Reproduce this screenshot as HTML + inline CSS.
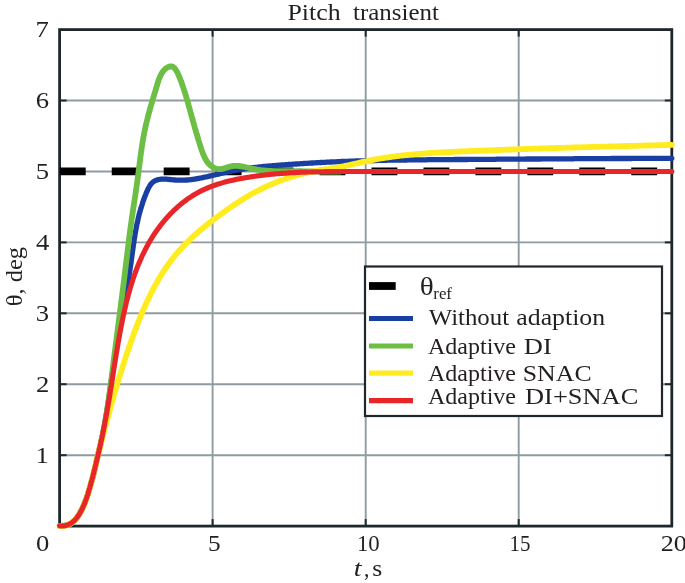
<!DOCTYPE html>
<html><head><meta charset="utf-8"><title>Pitch transient</title>
<style>html,body{margin:0;padding:0;background:#fff;}svg{display:block;}</style></head>
<body><svg width="685" height="583" viewBox="0 0 685 583">
<rect width="685" height="583" fill="#fff"/>
<line x1="212.6" y1="29.6" x2="212.6" y2="526.1" stroke="#909ba1" stroke-width="1.9"/>
<line x1="365.7" y1="29.6" x2="365.7" y2="526.1" stroke="#909ba1" stroke-width="1.9"/>
<line x1="518.7" y1="29.6" x2="518.7" y2="526.1" stroke="#909ba1" stroke-width="1.9"/>
<line x1="59.6" y1="455.2" x2="671.8" y2="455.2" stroke="#909ba1" stroke-width="1.9"/>
<line x1="59.6" y1="384.2" x2="671.8" y2="384.2" stroke="#909ba1" stroke-width="1.9"/>
<line x1="59.6" y1="313.3" x2="671.8" y2="313.3" stroke="#909ba1" stroke-width="1.9"/>
<line x1="59.6" y1="242.4" x2="671.8" y2="242.4" stroke="#909ba1" stroke-width="1.9"/>
<line x1="59.6" y1="171.5" x2="671.8" y2="171.5" stroke="#909ba1" stroke-width="1.9"/>
<line x1="59.6" y1="100.5" x2="671.8" y2="100.5" stroke="#909ba1" stroke-width="1.9"/>
<line x1="212.6" y1="29.6" x2="212.6" y2="36.6" stroke="#1e272c" stroke-width="2"/>
<line x1="212.6" y1="526.1" x2="212.6" y2="519.1" stroke="#1e272c" stroke-width="2"/>
<line x1="365.7" y1="29.6" x2="365.7" y2="36.6" stroke="#1e272c" stroke-width="2"/>
<line x1="365.7" y1="526.1" x2="365.7" y2="519.1" stroke="#1e272c" stroke-width="2"/>
<line x1="518.7" y1="29.6" x2="518.7" y2="36.6" stroke="#1e272c" stroke-width="2"/>
<line x1="518.7" y1="526.1" x2="518.7" y2="519.1" stroke="#1e272c" stroke-width="2"/>
<line x1="59.6" y1="455.2" x2="66.6" y2="455.2" stroke="#1e272c" stroke-width="2"/>
<line x1="671.8" y1="455.2" x2="664.8" y2="455.2" stroke="#1e272c" stroke-width="2"/>
<line x1="59.6" y1="384.2" x2="66.6" y2="384.2" stroke="#1e272c" stroke-width="2"/>
<line x1="671.8" y1="384.2" x2="664.8" y2="384.2" stroke="#1e272c" stroke-width="2"/>
<line x1="59.6" y1="313.3" x2="66.6" y2="313.3" stroke="#1e272c" stroke-width="2"/>
<line x1="671.8" y1="313.3" x2="664.8" y2="313.3" stroke="#1e272c" stroke-width="2"/>
<line x1="59.6" y1="242.4" x2="66.6" y2="242.4" stroke="#1e272c" stroke-width="2"/>
<line x1="671.8" y1="242.4" x2="664.8" y2="242.4" stroke="#1e272c" stroke-width="2"/>
<line x1="59.6" y1="171.5" x2="66.6" y2="171.5" stroke="#1e272c" stroke-width="2"/>
<line x1="671.8" y1="171.5" x2="664.8" y2="171.5" stroke="#1e272c" stroke-width="2"/>
<line x1="59.6" y1="100.5" x2="66.6" y2="100.5" stroke="#1e272c" stroke-width="2"/>
<line x1="671.8" y1="100.5" x2="664.8" y2="100.5" stroke="#1e272c" stroke-width="2"/>
<rect x="59.6" y="29.6" width="612.2" height="496.5" fill="none" stroke="#1e272c" stroke-width="2.8"/>
<line x1="59.8" y1="171.4" x2="671.8" y2="171.4" stroke="#000" stroke-width="7.9" stroke-dasharray="25.9 26.05"/>
<path d="M59.6,525.8 L60.6,525.8 L61.6,525.8 L62.6,525.7 L63.6,525.7 L64.6,525.6 L65.6,525.4 L66.6,525.2 L67.5,525.0 L68.5,524.6 L69.4,524.2 L70.3,523.7 L71.1,523.2 L72.0,522.6 L72.8,522.0 L73.5,521.4 L74.3,520.7 L75.0,520.0 L75.7,519.2 L76.3,518.5 L76.9,517.7 L77.5,516.9 L78.1,516.1 L78.6,515.3 L79.2,514.4 L79.7,513.5 L80.2,512.7 L80.7,511.8 L81.1,510.9 L81.6,510.0 L82.0,509.1 L82.4,508.2 L82.8,507.3 L83.3,506.3 L83.6,505.4 L84.0,504.5 L84.4,503.6 L84.8,502.6 L85.1,501.7 L85.5,500.8 L85.8,499.8 L86.2,498.9 L86.5,498.0 L86.8,497.0 L87.2,496.1 L87.5,495.1 L87.8,494.2 L88.1,493.2 L88.4,492.3 L88.7,491.3 L89.0,490.3 L89.3,489.4 L89.5,488.4 L89.8,487.5 L90.1,486.5 L90.4,485.5 L90.7,484.6 L90.9,483.6 L91.2,482.7 L91.5,481.7 L91.7,480.7 L92.0,479.8 L92.3,478.8 L92.5,477.8 L92.8,476.9 L93.0,475.9 L93.3,474.9 L93.6,474.0 L93.8,473.0 L94.0,472.0 L94.3,471.1 L94.5,470.1 L94.8,469.1 L95.0,468.1 L95.2,467.2 L95.4,466.2 L95.6,465.2 L95.9,464.2 L96.1,463.3 L96.3,462.3 L96.5,461.3 L96.7,460.3 L96.9,459.4 L97.1,458.4 L97.4,457.4 L97.6,456.4 L97.8,455.5 L98.0,454.5 L98.3,453.5 L98.5,452.5 L98.7,451.6 L99.0,450.6 L99.2,449.6 L99.5,448.6 L99.7,447.7 L99.9,446.7 L100.2,445.7 L100.4,444.8 L100.6,443.8 L100.8,442.8 L101.1,441.8 L101.3,440.9 L101.5,439.9 L101.7,438.9 L102.0,437.9 L102.2,437.0 L102.4,436.0 L102.6,435.0 L102.8,434.0 L103.0,433.0 L103.2,432.1 L103.4,431.1 L103.6,430.1 L103.8,429.1 L104.0,428.1 L104.1,427.2 L104.3,426.2 L104.5,425.2 L104.7,424.2 L104.9,423.2 L105.0,422.2 L105.2,421.3 L105.4,420.3 L105.6,419.3 L105.7,418.3 L105.9,417.3 L106.1,416.3 L106.2,415.3 L106.4,414.4 L106.5,413.4 L106.7,412.4 L106.8,411.4 L107.0,410.4 L107.2,409.4 L107.3,408.4 L107.5,407.4 L107.6,406.5 L107.8,405.5 L107.9,404.5 L108.1,403.5 L108.2,402.5 L108.3,401.5 L108.5,400.5 L108.6,399.5 L108.8,398.5 L108.9,397.6 L109.1,396.6 L109.2,395.6 L109.3,394.6 L109.5,393.6 L109.6,392.6 L109.8,391.6 L109.9,390.6 L110.1,389.6 L110.2,388.7 L110.3,387.7 L110.5,386.7 L110.6,385.7 L110.8,384.7 L110.9,383.7 L111.0,382.7 L111.2,381.7 L111.3,380.7 L111.5,379.7 L111.6,378.8 L111.8,377.8 L111.9,376.8 L112.1,375.8 L112.2,374.8 L112.4,373.8 L112.5,372.8 L112.7,371.8 L112.8,370.8 L113.0,369.9 L113.1,368.9 L113.3,367.9 L113.4,366.9 L113.6,365.9 L113.7,364.9 L113.9,363.9 L114.1,362.9 L114.2,361.9 L114.4,361.0 L114.5,360.0 L114.7,359.0 L114.9,358.0 L115.0,357.0 L115.2,356.0 L115.4,355.0 L115.5,354.1 L115.7,353.1 L115.9,352.1 L116.0,351.1 L116.2,350.1 L116.4,349.1 L116.5,348.1 L116.7,347.1 L116.9,346.2 L117.0,345.2 L117.2,344.2 L117.4,343.2 L117.5,342.2 L117.7,341.2 L117.9,340.2 L118.1,339.3 L118.2,338.3 L118.4,337.3 L118.6,336.3 L118.8,335.3 L118.9,334.3 L119.1,333.4 L119.3,332.4 L119.5,331.4 L119.6,330.4 L119.8,329.4 L120.0,328.4 L120.2,327.4 L120.3,326.5 L120.5,325.5 L120.7,324.5 L120.9,323.5 L121.0,322.5 L121.2,321.5 L121.4,320.6 L121.6,319.6 L121.7,318.6 L121.9,317.6 L122.1,316.6 L122.3,315.6 L122.4,314.7 L122.6,313.7 L122.8,312.7 L123.0,311.7 L123.1,310.7 L123.3,309.7 L123.5,308.8 L123.7,307.8 L123.8,306.8 L124.0,305.8 L124.2,304.8 L124.4,303.8 L124.5,302.9 L124.7,301.9 L124.9,300.9 L125.0,299.9 L125.2,298.9 L125.4,297.9 L125.6,296.9 L125.7,296.0 L125.9,295.0 L126.1,294.0 L126.2,293.0 L126.4,292.0 L126.6,291.0 L126.7,290.1 L126.9,289.1 L127.1,288.1 L127.2,287.1 L127.4,286.1 L127.6,285.1 L127.7,284.1 L127.9,283.1 L128.0,282.2 L128.2,281.2 L128.4,280.2 L128.5,279.2 L128.7,278.2 L128.8,277.2 L129.0,276.2 L129.1,275.2 L129.3,274.3 L129.4,273.3 L129.6,272.3 L129.7,271.3 L129.9,270.3 L130.0,269.3 L130.2,268.3 L130.3,267.3 L130.5,266.3 L130.6,265.3 L130.7,264.4 L130.9,263.4 L131.0,262.4 L131.2,261.4 L131.3,260.4 L131.4,259.4 L131.6,258.4 L131.7,257.4 L131.8,256.4 L132.0,255.4 L132.1,254.4 L132.3,253.4 L132.4,252.4 L132.5,251.5 L132.7,250.5 L132.8,249.5 L132.9,248.5 L133.1,247.5 L133.2,246.5 L133.4,245.5 L133.5,244.5 L133.7,243.5 L133.8,242.5 L133.9,241.5 L134.1,240.5 L134.2,239.6 L134.4,238.6 L134.6,237.6 L134.7,236.6 L134.9,235.6 L135.0,234.6 L135.2,233.6 L135.4,232.7 L135.5,231.7 L135.7,230.7 L135.9,229.7 L136.1,228.7 L136.3,227.7 L136.5,226.8 L136.6,225.8 L136.8,224.8 L137.0,223.8 L137.3,222.9 L137.5,221.9 L137.7,220.9 L137.9,219.9 L138.1,219.0 L138.3,218.0 L138.6,217.0 L138.8,216.1 L139.0,215.1 L139.3,214.1 L139.5,213.2 L139.8,212.2 L140.1,211.2 L140.3,210.3 L140.6,209.3 L140.9,208.4 L141.2,207.4 L141.5,206.5 L141.8,205.5 L142.1,204.6 L142.4,203.6 L142.7,202.7 L143.0,201.7 L143.3,200.8 L143.7,199.8 L144.0,198.9 L144.3,198.0 L144.7,197.0 L145.0,196.1 L145.4,195.2 L145.8,194.2 L146.1,193.3 L146.5,192.3 L147.0,191.4 L147.4,190.4 L147.8,189.4 L148.3,188.5 L148.8,187.5 L149.4,186.5 L149.9,185.6 L150.5,184.7 L151.1,183.9 L151.8,183.2 L152.5,182.5 L153.2,181.9 L153.9,181.4 L154.7,180.9 L155.5,180.5 L156.3,180.2 L157.2,179.9 L158.1,179.7 L159.0,179.5 L159.9,179.3 L160.8,179.2 L161.8,179.2 L162.8,179.1 L163.7,179.1 L164.7,179.1 L165.7,179.2 L166.8,179.2 L167.8,179.3 L168.8,179.4 L169.8,179.5 L170.9,179.6 L171.9,179.7 L173.0,179.8 L174.0,179.9 L175.0,180.0 L176.1,180.1 L177.1,180.1 L178.1,180.2 L179.2,180.2 L180.2,180.2 L181.2,180.2 L182.2,180.2 L183.2,180.2 L184.2,180.2 L185.2,180.1 L186.2,180.0 L187.2,180.0 L188.1,179.9 L189.1,179.8 L190.1,179.7 L191.1,179.6 L192.0,179.5 L193.0,179.3 L194.0,179.2 L195.0,179.1 L195.9,178.9 L196.9,178.7 L197.9,178.6 L198.8,178.4 L199.8,178.2 L200.8,178.0 L201.7,177.8 L202.7,177.6 L203.7,177.4 L204.6,177.2 L205.6,177.0 L206.6,176.8 L207.6,176.6 L208.5,176.4 L209.5,176.1 L210.5,175.9 L211.5,175.7 L212.4,175.5 L213.4,175.2 L214.4,175.0 L215.4,174.8 L216.3,174.5 L217.3,174.3 L218.3,174.1 L219.3,173.8 L220.2,173.6 L221.2,173.4 L222.2,173.1 L223.2,172.9 L224.2,172.7 L225.1,172.5 L226.1,172.3 L227.1,172.0 L228.1,171.8 L229.1,171.6 L230.1,171.4 L231.0,171.2 L232.0,171.0 L233.0,170.8 L234.0,170.6 L235.0,170.5 L236.0,170.3 L237.0,170.1 L237.9,169.9 L238.9,169.8 L239.9,169.6 L240.9,169.4 L241.9,169.3 L242.9,169.1 L243.9,169.0 L244.9,168.8 L245.8,168.7 L246.8,168.5 L247.8,168.4 L248.8,168.3 L249.8,168.1 L250.8,168.0 L251.8,167.9 L252.8,167.7 L253.8,167.6 L254.8,167.5 L255.8,167.4 L256.7,167.3 L257.7,167.2 L258.7,167.0 L259.7,166.9 L260.7,166.8 L261.7,166.7 L262.7,166.6 L263.7,166.5 L264.7,166.4 L265.7,166.3 L266.7,166.2 L267.7,166.2 L268.7,166.1 L269.7,166.0 L270.7,165.9 L271.7,165.8 L272.7,165.7 L273.7,165.6 L274.6,165.6 L275.6,165.5 L276.6,165.4 L277.6,165.3 L278.6,165.2 L279.6,165.2 L280.6,165.1 L281.6,165.0 L282.6,164.9 L283.6,164.9 L284.6,164.8 L285.6,164.7 L286.6,164.6 L287.6,164.6 L288.6,164.5 L289.6,164.4 L290.6,164.4 L291.6,164.3 L292.6,164.2 L293.6,164.2 L294.6,164.1 L295.6,164.0 L296.6,164.0 L297.6,163.9 L298.6,163.8 L299.6,163.8 L300.6,163.7 L301.6,163.6 L302.6,163.6 L303.6,163.5 L304.6,163.4 L305.6,163.4 L306.6,163.3 L307.6,163.3 L308.6,163.2 L309.6,163.1 L310.6,163.1 L311.6,163.0 L312.6,163.0 L313.6,162.9 L314.5,162.9 L315.5,162.8 L316.5,162.7 L317.5,162.7 L318.5,162.6 L319.5,162.6 L320.5,162.5 L321.5,162.5 L322.5,162.4 L323.5,162.4 L324.5,162.3 L325.5,162.3 L326.5,162.2 L327.5,162.2 L328.5,162.1 L329.5,162.1 L330.5,162.0 L331.5,162.0 L332.5,161.9 L333.5,161.9 L334.5,161.8 L335.5,161.8 L336.5,161.8 L337.5,161.7 L338.5,161.7 L339.5,161.6 L340.5,161.6 L341.5,161.5 L342.5,161.5 L343.5,161.5 L344.5,161.4 L345.5,161.4 L346.5,161.4 L347.5,161.3 L348.5,161.3 L349.5,161.2 L350.5,161.2 L351.5,161.2 L352.5,161.1 L353.5,161.1 L354.5,161.1 L355.5,161.0 L356.5,161.0 L357.5,161.0 L358.5,160.9 L359.5,160.9 L360.5,160.9 L361.5,160.9 L362.5,160.8 L363.5,160.8 L364.5,160.8 L365.5,160.7 L366.5,160.7 L367.5,160.7 L368.5,160.7 L369.5,160.6 L370.5,160.6 L371.5,160.6 L372.5,160.6 L373.5,160.5 L374.5,160.5 L375.5,160.5 L376.5,160.5 L377.5,160.4 L378.5,160.4 L379.5,160.4 L380.5,160.4 L381.5,160.4 L382.5,160.3 L383.5,160.3 L384.5,160.3 L385.5,160.3 L386.5,160.3 L387.5,160.2 L388.5,160.2 L389.5,160.2 L390.5,160.2 L391.5,160.2 L392.5,160.2 L393.5,160.1 L394.5,160.1 L395.5,160.1 L396.5,160.1 L397.5,160.1 L398.5,160.1 L399.5,160.1 L400.5,160.0 L401.5,160.0 L402.5,160.0 L403.5,160.0 L404.5,160.0 L405.5,160.0 L406.5,160.0 L407.5,159.9 L408.5,159.9 L409.5,159.9 L410.5,159.9 L411.5,159.9 L412.5,159.9 L413.5,159.9 L414.5,159.9 L415.5,159.9 L416.5,159.8 L417.5,159.8 L418.5,159.8 L419.5,159.8 L420.5,159.8 L421.5,159.8 L422.5,159.8 L423.5,159.8 L424.5,159.8 L425.5,159.8 L426.5,159.8 L427.5,159.7 L428.5,159.7 L429.5,159.7 L430.5,159.7 L431.5,159.7 L432.5,159.7 L433.5,159.7 L434.5,159.7 L435.5,159.7 L436.5,159.7 L437.5,159.7 L438.5,159.7 L439.5,159.6 L440.5,159.6 L441.5,159.6 L442.5,159.6 L443.5,159.6 L444.5,159.6 L445.5,159.6 L446.5,159.6 L447.5,159.6 L448.5,159.6 L449.5,159.6 L450.5,159.6 L451.5,159.6 L452.5,159.6 L453.5,159.6 L454.5,159.5 L455.5,159.5 L456.5,159.5 L457.5,159.5 L458.5,159.5 L459.5,159.5 L460.5,159.5 L461.5,159.5 L462.5,159.5 L463.5,159.5 L464.5,159.5 L465.5,159.5 L466.5,159.5 L467.5,159.5 L468.5,159.4 L469.5,159.4 L470.5,159.4 L471.5,159.4 L472.5,159.4 L473.5,159.4 L474.5,159.4 L475.5,159.4 L476.5,159.4 L477.5,159.4 L478.5,159.4 L479.5,159.4 L480.5,159.4 L481.5,159.4 L482.5,159.3 L483.5,159.3 L484.5,159.3 L485.5,159.3 L486.5,159.3 L487.5,159.3 L488.5,159.3 L489.5,159.3 L490.5,159.3 L491.5,159.3 L492.5,159.3 L493.5,159.3 L494.5,159.3 L495.5,159.3 L496.5,159.2 L497.5,159.2 L498.5,159.2 L499.5,159.2 L500.5,159.2 L501.5,159.2 L502.5,159.2 L503.5,159.2 L504.5,159.2 L505.5,159.2 L506.5,159.2 L507.5,159.2 L508.5,159.2 L509.5,159.2 L510.5,159.2 L511.5,159.1 L512.5,159.1 L513.5,159.1 L514.5,159.1 L515.5,159.1 L516.5,159.1 L517.5,159.1 L518.5,159.1 L519.5,159.1 L520.5,159.1 L521.5,159.1 L522.5,159.1 L523.5,159.1 L524.5,159.1 L525.5,159.1 L526.5,159.0 L527.5,159.0 L528.5,159.0 L529.5,159.0 L530.5,159.0 L531.5,159.0 L532.5,159.0 L533.5,159.0 L534.5,159.0 L535.5,159.0 L536.5,159.0 L537.5,159.0 L538.5,159.0 L539.5,159.0 L540.5,159.0 L541.5,158.9 L542.5,158.9 L543.5,158.9 L544.5,158.9 L545.5,158.9 L546.5,158.9 L547.5,158.9 L548.5,158.9 L549.5,158.9 L550.5,158.9 L551.5,158.9 L552.5,158.9 L553.5,158.9 L554.5,158.9 L555.5,158.9 L556.5,158.9 L557.5,158.8 L558.5,158.8 L559.5,158.8 L560.5,158.8 L561.5,158.8 L562.5,158.8 L563.5,158.8 L564.5,158.8 L565.5,158.8 L566.5,158.8 L567.5,158.8 L568.5,158.8 L569.5,158.8 L570.5,158.8 L571.5,158.8 L572.5,158.8 L573.5,158.8 L574.5,158.7 L575.5,158.7 L576.5,158.7 L577.5,158.7 L578.5,158.7 L579.5,158.7 L580.5,158.7 L581.5,158.7 L582.5,158.7 L583.5,158.7 L584.5,158.7 L585.5,158.7 L586.5,158.7 L587.5,158.7 L588.5,158.7 L589.5,158.7 L590.5,158.7 L591.5,158.7 L592.5,158.6 L593.5,158.6 L594.5,158.6 L595.5,158.6 L596.5,158.6 L597.5,158.6 L598.5,158.6 L599.5,158.6 L600.5,158.6 L601.5,158.6 L602.5,158.6 L603.5,158.6 L604.5,158.6 L605.5,158.6 L606.5,158.6 L607.5,158.6 L608.5,158.6 L609.5,158.6 L610.5,158.6 L611.5,158.5 L612.5,158.5 L613.5,158.5 L614.5,158.5 L615.5,158.5 L616.5,158.5 L617.5,158.5 L618.5,158.5 L619.5,158.5 L620.5,158.5 L621.5,158.5 L622.5,158.5 L623.5,158.5 L624.5,158.5 L625.5,158.5 L626.5,158.5 L627.5,158.5 L628.5,158.5 L629.5,158.5 L630.5,158.5 L631.5,158.5 L632.5,158.4 L633.5,158.4 L634.5,158.4 L635.5,158.4 L636.5,158.4 L637.5,158.4 L638.5,158.4 L639.5,158.4 L640.5,158.4 L641.5,158.4 L642.5,158.4 L643.5,158.4 L644.5,158.4 L645.5,158.4 L646.5,158.4 L647.5,158.4 L648.5,158.4 L649.5,158.4 L650.5,158.4 L651.5,158.4 L652.5,158.4 L653.5,158.4 L654.5,158.4 L655.5,158.4 L656.5,158.4 L657.5,158.3 L658.5,158.3 L659.5,158.3 L660.5,158.3 L661.5,158.3 L662.5,158.3 L663.5,158.3 L664.5,158.3 L665.5,158.3 L666.5,158.3 L667.5,158.3 L668.5,158.3 L669.5,158.3 L670.5,158.3 L671.5,158.3 L671.8,158.3" fill="none" stroke="#1a3fa3" stroke-width="5.3" stroke-linejoin="round" stroke-linecap="round"/>
<path d="M59.6,525.8 L60.6,525.8 L61.6,525.8 L62.6,525.7 L63.6,525.7 L64.6,525.6 L65.6,525.4 L66.6,525.2 L67.5,524.9 L68.5,524.6 L69.4,524.2 L70.3,523.7 L71.2,523.2 L72.0,522.7 L72.8,522.0 L73.5,521.4 L74.3,520.7 L75.0,520.0 L75.6,519.3 L76.3,518.5 L76.9,517.7 L77.5,516.9 L78.1,516.1 L78.6,515.2 L79.2,514.4 L79.7,513.5 L80.2,512.6 L80.7,511.8 L81.1,510.9 L81.6,510.0 L82.0,509.1 L82.5,508.2 L82.9,507.3 L83.3,506.4 L83.7,505.4 L84.1,504.5 L84.4,503.6 L84.8,502.7 L85.2,501.7 L85.5,500.8 L85.8,499.8 L86.2,498.9 L86.5,498.0 L86.8,497.0 L87.1,496.1 L87.4,495.1 L87.8,494.2 L88.1,493.2 L88.4,492.2 L88.7,491.3 L88.9,490.3 L89.2,489.4 L89.5,488.4 L89.8,487.5 L90.1,486.5 L90.4,485.5 L90.7,484.6 L91.0,483.6 L91.2,482.7 L91.5,481.7 L91.8,480.7 L92.0,479.8 L92.3,478.8 L92.6,477.8 L92.8,476.9 L93.1,475.9 L93.3,474.9 L93.6,474.0 L93.8,473.0 L94.0,472.0 L94.3,471.1 L94.5,470.1 L94.7,469.1 L95.0,468.1 L95.2,467.2 L95.4,466.2 L95.6,465.2 L95.8,464.2 L96.0,463.3 L96.3,462.3 L96.5,461.3 L96.7,460.3 L96.9,459.3 L97.1,458.4 L97.3,457.4 L97.6,456.4 L97.8,455.4 L98.0,454.5 L98.3,453.5 L98.5,452.5 L98.8,451.6 L99.0,450.6 L99.3,449.6 L99.5,448.6 L99.7,447.7 L100.0,446.7 L100.2,445.7 L100.4,444.8 L100.6,443.8 L100.9,442.8 L101.1,441.8 L101.3,440.9 L101.5,439.9 L101.7,438.9 L101.9,437.9 L102.2,437.0 L102.4,436.0 L102.6,435.0 L102.8,434.0 L103.0,433.0 L103.2,432.1 L103.4,431.1 L103.5,430.1 L103.7,429.1 L103.9,428.1 L104.1,427.2 L104.3,426.2 L104.5,425.2 L104.7,424.2 L104.8,423.2 L105.0,422.2 L105.2,421.3 L105.4,420.3 L105.5,419.3 L105.7,418.3 L105.9,417.3 L106.1,416.3 L106.2,415.3 L106.4,414.4 L106.5,413.4 L106.7,412.4 L106.9,411.4 L107.0,410.4 L107.2,409.4 L107.3,408.4 L107.5,407.5 L107.6,406.5 L107.8,405.5 L107.9,404.5 L108.1,403.5 L108.2,402.5 L108.4,401.5 L108.5,400.5 L108.7,399.5 L108.8,398.6 L109.0,397.6 L109.1,396.6 L109.2,395.6 L109.4,394.6 L109.5,393.6 L109.7,392.6 L109.8,391.6 L109.9,390.6 L110.1,389.6 L110.2,388.6 L110.3,387.7 L110.5,386.7 L110.6,385.7 L110.7,384.7 L110.8,383.7 L111.0,382.7 L111.1,381.7 L111.2,380.7 L111.4,379.7 L111.5,378.7 L111.6,377.7 L111.7,376.7 L111.9,375.7 L112.0,374.8 L112.1,373.8 L112.2,372.8 L112.4,371.8 L112.5,370.8 L112.6,369.8 L112.7,368.8 L112.9,367.8 L113.0,366.8 L113.1,365.8 L113.2,364.8 L113.4,363.8 L113.5,362.8 L113.6,361.9 L113.7,360.9 L113.9,359.9 L114.0,358.9 L114.1,357.9 L114.2,356.9 L114.4,355.9 L114.5,354.9 L114.6,353.9 L114.7,352.9 L114.9,351.9 L115.0,350.9 L115.1,349.9 L115.2,349.0 L115.4,348.0 L115.5,347.0 L115.6,346.0 L115.7,345.0 L115.9,344.0 L116.0,343.0 L116.1,342.0 L116.3,341.0 L116.4,340.0 L116.5,339.0 L116.6,338.0 L116.8,337.1 L116.9,336.1 L117.0,335.1 L117.1,334.1 L117.3,333.1 L117.4,332.1 L117.5,331.1 L117.6,330.1 L117.8,329.1 L117.9,328.1 L118.0,327.1 L118.2,326.2 L118.3,325.2 L118.4,324.2 L118.5,323.2 L118.7,322.2 L118.8,321.2 L118.9,320.2 L119.0,319.2 L119.2,318.2 L119.3,317.2 L119.4,316.2 L119.6,315.3 L119.7,314.3 L119.8,313.3 L119.9,312.3 L120.1,311.3 L120.2,310.3 L120.3,309.3 L120.4,308.3 L120.6,307.3 L120.7,306.3 L120.8,305.3 L121.0,304.3 L121.1,303.4 L121.2,302.4 L121.3,301.4 L121.5,300.4 L121.6,299.4 L121.7,298.4 L121.8,297.4 L122.0,296.4 L122.1,295.4 L122.2,294.4 L122.3,293.4 L122.5,292.4 L122.6,291.5 L122.7,290.5 L122.8,289.5 L123.0,288.5 L123.1,287.5 L123.2,286.5 L123.3,285.5 L123.5,284.5 L123.6,283.5 L123.7,282.5 L123.8,281.5 L124.0,280.5 L124.1,279.5 L124.2,278.6 L124.3,277.6 L124.5,276.6 L124.6,275.6 L124.7,274.6 L124.8,273.6 L124.9,272.6 L125.1,271.6 L125.2,270.6 L125.3,269.6 L125.4,268.6 L125.5,267.6 L125.7,266.6 L125.8,265.6 L125.9,264.6 L126.0,263.6 L126.2,262.7 L126.3,261.7 L126.4,260.7 L126.5,259.7 L126.6,258.7 L126.8,257.7 L126.9,256.7 L127.0,255.7 L127.1,254.7 L127.2,253.7 L127.4,252.7 L127.5,251.7 L127.6,250.7 L127.7,249.7 L127.8,248.7 L128.0,247.7 L128.1,246.7 L128.2,245.8 L128.3,244.8 L128.4,243.8 L128.6,242.8 L128.7,241.8 L128.8,240.8 L128.9,239.8 L129.1,238.8 L129.2,237.8 L129.3,236.8 L129.5,235.8 L129.6,234.8 L129.7,233.8 L129.8,232.9 L130.0,231.9 L130.1,230.9 L130.2,229.9 L130.4,228.9 L130.5,227.9 L130.6,226.9 L130.8,225.9 L130.9,224.9 L131.0,223.9 L131.2,223.0 L131.3,222.0 L131.5,221.0 L131.6,220.0 L131.7,219.0 L131.9,218.0 L132.0,217.0 L132.2,216.1 L132.3,215.1 L132.5,214.1 L132.6,213.1 L132.7,212.1 L132.9,211.1 L133.0,210.1 L133.2,209.2 L133.3,208.2 L133.5,207.2 L133.6,206.2 L133.8,205.2 L133.9,204.2 L134.1,203.2 L134.2,202.3 L134.4,201.3 L134.5,200.3 L134.7,199.3 L134.8,198.3 L135.0,197.3 L135.1,196.3 L135.3,195.4 L135.4,194.4 L135.6,193.4 L135.7,192.4 L135.9,191.4 L136.0,190.4 L136.1,189.4 L136.3,188.4 L136.4,187.5 L136.6,186.5 L136.7,185.5 L136.9,184.5 L137.0,183.5 L137.1,182.5 L137.3,181.5 L137.4,180.5 L137.5,179.5 L137.7,178.5 L137.8,177.5 L137.9,176.5 L138.1,175.5 L138.2,174.5 L138.3,173.5 L138.5,172.5 L138.6,171.5 L138.7,170.5 L138.8,169.5 L139.0,168.5 L139.1,167.5 L139.2,166.5 L139.3,165.5 L139.5,164.5 L139.6,163.5 L139.7,162.5 L139.9,161.5 L140.0,160.5 L140.1,159.5 L140.2,158.5 L140.4,157.5 L140.5,156.5 L140.6,155.5 L140.8,154.5 L140.9,153.6 L141.0,152.6 L141.2,151.6 L141.3,150.6 L141.5,149.6 L141.6,148.6 L141.8,147.6 L141.9,146.6 L142.0,145.6 L142.2,144.6 L142.4,143.6 L142.5,142.6 L142.7,141.7 L142.8,140.7 L143.0,139.7 L143.2,138.7 L143.3,137.7 L143.5,136.7 L143.7,135.8 L143.9,134.8 L144.1,133.8 L144.2,132.8 L144.4,131.9 L144.6,130.9 L144.8,129.9 L145.0,129.0 L145.2,128.0 L145.4,127.0 L145.7,126.1 L145.9,125.1 L146.1,124.2 L146.3,123.2 L146.6,122.3 L146.8,121.3 L147.0,120.3 L147.3,119.4 L147.5,118.4 L147.7,117.5 L148.0,116.5 L148.2,115.6 L148.5,114.6 L148.7,113.7 L149.0,112.7 L149.3,111.8 L149.5,110.8 L149.8,109.8 L150.0,108.9 L150.3,107.9 L150.6,107.0 L150.9,106.0 L151.1,105.0 L151.4,104.1 L151.7,103.1 L152.0,102.1 L152.2,101.2 L152.5,100.2 L152.8,99.2 L153.1,98.3 L153.4,97.3 L153.7,96.3 L154.0,95.3 L154.3,94.3 L154.6,93.3 L154.9,92.3 L155.2,91.4 L155.5,90.4 L155.8,89.4 L156.1,88.4 L156.4,87.3 L156.7,86.3 L157.0,85.3 L157.3,84.3 L157.6,83.3 L157.9,82.3 L158.2,81.3 L158.6,80.3 L158.9,79.3 L159.3,78.4 L159.7,77.5 L160.1,76.5 L160.5,75.6 L160.9,74.8 L161.4,73.9 L161.9,73.1 L162.4,72.3 L162.9,71.6 L163.5,70.8 L164.0,70.2 L164.7,69.5 L165.3,68.9 L166.0,68.4 L166.7,67.9 L167.5,67.4 L168.3,67.0 L169.1,66.7 L170.0,66.5 L170.8,66.4 L171.7,66.4 L172.4,66.6 L173.2,67.0 L173.9,67.6 L174.6,68.2 L175.2,69.0 L175.8,69.9 L176.4,70.7 L176.9,71.7 L177.4,72.6 L177.9,73.5 L178.3,74.5 L178.7,75.4 L179.1,76.4 L179.5,77.4 L179.9,78.3 L180.3,79.3 L180.7,80.3 L181.0,81.2 L181.4,82.2 L181.7,83.2 L182.1,84.2 L182.4,85.1 L182.8,86.1 L183.1,87.1 L183.4,88.0 L183.7,89.0 L184.0,90.0 L184.4,90.9 L184.7,91.9 L185.0,92.9 L185.3,93.8 L185.6,94.8 L185.9,95.7 L186.2,96.7 L186.4,97.7 L186.7,98.6 L187.0,99.6 L187.3,100.6 L187.6,101.5 L187.8,102.5 L188.1,103.4 L188.4,104.4 L188.6,105.4 L188.9,106.3 L189.2,107.3 L189.4,108.2 L189.7,109.2 L190.0,110.1 L190.2,111.1 L190.5,112.1 L190.8,113.0 L191.0,114.0 L191.3,114.9 L191.5,115.9 L191.8,116.8 L192.1,117.8 L192.3,118.7 L192.6,119.7 L192.8,120.6 L193.1,121.6 L193.4,122.5 L193.6,123.5 L193.9,124.4 L194.2,125.4 L194.5,126.3 L194.7,127.3 L195.0,128.3 L195.3,129.2 L195.6,130.2 L195.8,131.1 L196.1,132.1 L196.4,133.0 L196.7,134.0 L197.0,134.9 L197.3,135.9 L197.6,136.9 L197.8,137.8 L198.1,138.8 L198.4,139.8 L198.7,140.7 L199.0,141.7 L199.3,142.7 L199.6,143.6 L199.9,144.6 L200.2,145.6 L200.5,146.6 L200.9,147.6 L201.2,148.6 L201.5,149.5 L201.8,150.5 L202.2,151.5 L202.5,152.5 L202.9,153.4 L203.3,154.4 L203.7,155.3 L204.1,156.2 L204.5,157.1 L204.9,158.0 L205.4,158.9 L205.9,159.8 L206.4,160.6 L206.9,161.4 L207.5,162.2 L208.1,163.0 L208.7,163.7 L209.4,164.4 L210.1,165.1 L210.8,165.7 L211.6,166.3 L212.3,166.9 L213.1,167.4 L214.0,167.8 L214.8,168.2 L215.7,168.5 L216.6,168.8 L217.5,169.0 L218.4,169.1 L219.4,169.2 L220.3,169.1 L221.3,169.0 L222.3,168.8 L223.3,168.6 L224.3,168.3 L225.3,168.0 L226.3,167.7 L227.3,167.4 L228.3,167.1 L229.3,166.8 L230.3,166.5 L231.3,166.3 L232.3,166.1 L233.3,165.9 L234.3,165.9 L235.3,165.8 L236.3,165.8 L237.3,165.8 L238.2,165.9 L239.2,166.0 L240.2,166.1 L241.2,166.3 L242.2,166.4 L243.1,166.6 L244.1,166.8 L245.1,167.0 L246.1,167.3 L247.0,167.5 L248.0,167.7 L249.0,168.0 L250.0,168.2 L250.9,168.4 L251.9,168.7 L252.9,168.9 L253.9,169.1 L254.9,169.2 L255.8,169.4 L256.8,169.6 L257.8,169.7 L258.8,169.9 L259.8,170.0 L260.8,170.2 L261.8,170.3 L262.8,170.4 L263.8,170.5 L264.7,170.6 L265.7,170.7 L266.7,170.7 L267.7,170.8 L268.7,170.9 L269.7,170.9 L270.7,171.0 L271.7,171.0 L272.7,171.1 L273.7,171.1 L274.7,171.1 L275.7,171.2 L276.7,171.2 L277.7,171.2 L278.7,171.2 L279.7,171.2 L280.7,171.2 L281.7,171.2 L282.7,171.2 L283.7,171.2 L284.8,171.2 L285.8,171.2 L286.8,171.2 L287.8,171.2 L288.8,171.2 L289.8,171.2 L290.8,171.2 L291.8,171.2 L292.8,171.2 L293.8,171.2 L294.8,171.2 L295.8,171.2 L296.8,171.2 L297.8,171.2 L298.8,171.2 L299.8,171.2 L300.8,171.2 L301.8,171.2 L302.8,171.3 L303.8,171.3 L304.8,171.3 L305.8,171.3 L306.8,171.3 L307.8,171.3 L308.8,171.4 L309.8,171.4 L310.8,171.4 L311.8,171.4 L312.8,171.4 L313.8,171.5 L314.8,171.5 L315.8,171.5 L316.8,171.5 L317.8,171.5 L318.8,171.5 L319.8,171.6 L320.7,171.6 L321.7,171.6 L322.7,171.6 L323.7,171.6 L324.7,171.6 L325.7,171.6 L326.7,171.6 L327.7,171.7 L328.7,171.7 L329.7,171.7 L330.7,171.7 L331.7,171.6 L332.7,171.6 L333.7,171.6 L334.7,171.6 L335.7,171.6 L336.7,171.6 L337.8,171.6 L338.8,171.5 L339.8,171.5 L340.0,171.5" fill="none" stroke="#6dbe45" stroke-width="5.8" stroke-linejoin="round" stroke-linecap="round"/>
<path d="M59.6,525.8 L60.7,525.9 L61.7,526.0 L62.8,525.9 L63.8,525.8 L64.8,525.7 L65.8,525.5 L66.7,525.2 L67.6,524.9 L68.6,524.5 L69.4,524.1 L70.3,523.6 L71.1,523.1 L71.9,522.6 L72.7,522.0 L73.5,521.3 L74.2,520.7 L74.9,520.0 L75.5,519.3 L76.2,518.5 L76.8,517.7 L77.4,516.9 L78.0,516.1 L78.5,515.3 L79.1,514.4 L79.6,513.5 L80.1,512.7 L80.6,511.8 L81.1,510.9 L81.5,510.0 L82.0,509.1 L82.4,508.2 L82.9,507.3 L83.3,506.4 L83.7,505.4 L84.1,504.5 L84.5,503.6 L84.9,502.7 L85.2,501.7 L85.6,500.8 L85.9,499.9 L86.3,498.9 L86.6,498.0 L86.9,497.0 L87.2,496.1 L87.6,495.1 L87.9,494.2 L88.2,493.2 L88.5,492.3 L88.8,491.3 L89.0,490.4 L89.3,489.4 L89.6,488.4 L89.9,487.5 L90.1,486.5 L90.4,485.5 L90.7,484.6 L90.9,483.6 L91.2,482.6 L91.4,481.7 L91.7,480.7 L91.9,479.7 L92.2,478.8 L92.4,477.8 L92.7,476.8 L92.9,475.9 L93.2,474.9 L93.4,473.9 L93.7,473.0 L93.9,472.0 L94.1,471.0 L94.4,470.1 L94.6,469.1 L94.9,468.1 L95.1,467.1 L95.3,466.2 L95.6,465.2 L95.8,464.2 L96.0,463.3 L96.3,462.3 L96.5,461.3 L96.7,460.3 L97.0,459.4 L97.2,458.4 L97.5,457.4 L97.7,456.5 L97.9,455.5 L98.2,454.5 L98.4,453.5 L98.7,452.6 L98.9,451.6 L99.1,450.6 L99.4,449.7 L99.6,448.7 L99.9,447.7 L100.1,446.8 L100.4,445.8 L100.6,444.8 L100.9,443.8 L101.1,442.9 L101.4,441.9 L101.6,440.9 L101.8,440.0 L102.1,439.0 L102.3,438.0 L102.6,437.1 L102.8,436.1 L103.1,435.1 L103.3,434.2 L103.6,433.2 L103.9,432.2 L104.1,431.3 L104.4,430.3 L104.6,429.3 L104.9,428.4 L105.1,427.4 L105.4,426.4 L105.6,425.5 L105.9,424.5 L106.1,423.5 L106.4,422.6 L106.7,421.6 L106.9,420.6 L107.2,419.7 L107.4,418.7 L107.7,417.7 L108.0,416.8 L108.2,415.8 L108.5,414.8 L108.7,413.9 L109.0,412.9 L109.3,411.9 L109.5,411.0 L109.8,410.0 L110.1,409.1 L110.3,408.1 L110.6,407.1 L110.9,406.2 L111.1,405.2 L111.4,404.2 L111.7,403.3 L111.9,402.3 L112.2,401.4 L112.5,400.4 L112.8,399.4 L113.0,398.5 L113.3,397.5 L113.6,396.5 L113.9,395.6 L114.1,394.6 L114.4,393.7 L114.7,392.7 L115.0,391.7 L115.2,390.8 L115.5,389.8 L115.8,388.9 L116.1,387.9 L116.4,387.0 L116.7,386.0 L116.9,385.0 L117.2,384.1 L117.5,383.1 L117.8,382.2 L118.1,381.2 L118.4,380.3 L118.7,379.3 L119.0,378.3 L119.3,377.4 L119.5,376.4 L119.8,375.5 L120.1,374.5 L120.4,373.6 L120.7,372.6 L121.0,371.7 L121.3,370.7 L121.6,369.7 L121.9,368.8 L122.2,367.8 L122.5,366.9 L122.8,365.9 L123.1,365.0 L123.5,364.0 L123.8,363.1 L124.1,362.1 L124.4,361.2 L124.7,360.2 L125.0,359.3 L125.3,358.3 L125.6,357.4 L125.9,356.4 L126.3,355.5 L126.6,354.5 L126.9,353.6 L127.2,352.6 L127.5,351.7 L127.9,350.7 L128.2,349.8 L128.5,348.8 L128.8,347.9 L129.2,346.9 L129.5,346.0 L129.8,345.0 L130.2,344.1 L130.5,343.2 L130.8,342.2 L131.2,341.3 L131.5,340.3 L131.8,339.4 L132.2,338.4 L132.5,337.5 L132.9,336.5 L133.2,335.6 L133.5,334.7 L133.9,333.7 L134.2,332.8 L134.6,331.8 L134.9,330.9 L135.3,329.9 L135.6,329.0 L136.0,328.1 L136.3,327.1 L136.7,326.2 L137.1,325.3 L137.4,324.3 L137.8,323.4 L138.2,322.4 L138.5,321.5 L138.9,320.6 L139.3,319.6 L139.6,318.7 L140.0,317.8 L140.4,316.9 L140.8,315.9 L141.2,315.0 L141.6,314.1 L141.9,313.2 L142.3,312.2 L142.7,311.3 L143.1,310.4 L143.5,309.5 L143.9,308.6 L144.3,307.6 L144.7,306.7 L145.1,305.8 L145.5,304.9 L145.9,304.0 L146.4,303.1 L146.8,302.2 L147.2,301.3 L147.6,300.4 L148.0,299.5 L148.5,298.6 L148.9,297.7 L149.3,296.8 L149.8,295.9 L150.2,295.0 L150.7,294.1 L151.1,293.2 L151.6,292.3 L152.0,291.4 L152.5,290.5 L152.9,289.6 L153.4,288.8 L153.9,287.9 L154.3,287.0 L154.8,286.1 L155.3,285.3 L155.8,284.4 L156.2,283.5 L156.7,282.7 L157.2,281.8 L157.7,280.9 L158.2,280.1 L158.7,279.2 L159.2,278.4 L159.7,277.5 L160.2,276.7 L160.8,275.8 L161.3,275.0 L161.8,274.1 L162.3,273.3 L162.9,272.5 L163.4,271.6 L163.9,270.8 L164.5,270.0 L165.0,269.1 L165.6,268.3 L166.1,267.5 L166.7,266.7 L167.3,265.9 L167.8,265.1 L168.4,264.3 L169.0,263.5 L169.6,262.6 L170.1,261.9 L170.7,261.1 L171.3,260.3 L171.9,259.5 L172.5,258.7 L173.2,257.9 L173.8,257.1 L174.4,256.3 L175.0,255.6 L175.6,254.8 L176.3,254.0 L176.9,253.3 L177.5,252.5 L178.2,251.8 L178.8,251.0 L179.5,250.3 L180.2,249.5 L180.8,248.8 L181.5,248.0 L182.2,247.3 L182.9,246.6 L183.6,245.8 L184.2,245.1 L184.9,244.4 L185.6,243.7 L186.4,243.0 L187.1,242.3 L187.8,241.6 L188.5,240.9 L189.2,240.2 L189.9,239.5 L190.7,238.8 L191.4,238.1 L192.2,237.4 L192.9,236.7 L193.6,236.0 L194.4,235.3 L195.1,234.7 L195.9,234.0 L196.7,233.3 L197.4,232.7 L198.2,232.0 L199.0,231.3 L199.7,230.7 L200.5,230.0 L201.3,229.4 L202.1,228.7 L202.9,228.1 L203.6,227.4 L204.4,226.8 L205.2,226.2 L206.0,225.5 L206.8,224.9 L207.6,224.3 L208.4,223.6 L209.2,223.0 L210.0,222.4 L210.8,221.8 L211.6,221.2 L212.4,220.5 L213.2,219.9 L214.0,219.3 L214.8,218.7 L215.6,218.1 L216.4,217.5 L217.2,216.9 L218.1,216.3 L218.9,215.7 L219.7,215.1 L220.5,214.5 L221.3,213.9 L222.1,213.3 L222.9,212.8 L223.7,212.2 L224.6,211.6 L225.4,211.0 L226.2,210.4 L227.0,209.8 L227.8,209.3 L228.6,208.7 L229.5,208.1 L230.3,207.6 L231.1,207.0 L231.9,206.4 L232.7,205.9 L233.6,205.3 L234.4,204.8 L235.2,204.2 L236.0,203.7 L236.9,203.1 L237.7,202.6 L238.5,202.0 L239.4,201.5 L240.2,201.0 L241.0,200.4 L241.9,199.9 L242.7,199.4 L243.6,198.9 L244.4,198.3 L245.2,197.8 L246.1,197.3 L246.9,196.8 L247.8,196.3 L248.6,195.8 L249.5,195.3 L250.3,194.8 L251.2,194.3 L252.1,193.8 L252.9,193.4 L253.8,192.9 L254.7,192.4 L255.5,191.9 L256.4,191.5 L257.3,191.0 L258.2,190.5 L259.0,190.1 L259.9,189.6 L260.8,189.2 L261.7,188.7 L262.6,188.3 L263.5,187.9 L264.4,187.4 L265.3,187.0 L266.2,186.6 L267.1,186.2 L268.0,185.7 L268.9,185.3 L269.8,184.9 L270.7,184.5 L271.7,184.1 L272.6,183.7 L273.5,183.4 L274.4,183.0 L275.4,182.6 L276.3,182.2 L277.2,181.8 L278.2,181.5 L279.1,181.1 L280.0,180.8 L281.0,180.4 L281.9,180.1 L282.9,179.7 L283.8,179.4 L284.8,179.0 L285.7,178.7 L286.7,178.4 L287.6,178.1 L288.6,177.8 L289.6,177.4 L290.5,177.1 L291.5,176.8 L292.4,176.5 L293.4,176.3 L294.4,176.0 L295.3,175.7 L296.3,175.4 L297.3,175.1 L298.3,174.9 L299.2,174.6 L300.2,174.3 L301.2,174.1 L302.2,173.8 L303.1,173.6 L304.1,173.4 L305.1,173.1 L306.1,172.9 L307.0,172.7 L308.0,172.5 L309.0,172.2 L310.0,172.0 L311.0,171.8 L311.9,171.6 L312.9,171.4 L313.9,171.2 L314.9,171.1 L315.9,170.9 L316.9,170.7 L317.8,170.5 L318.8,170.4 L319.8,170.2 L320.8,170.0 L321.8,169.9 L322.8,169.7 L323.7,169.6 L324.7,169.4 L325.7,169.3 L326.7,169.1 L327.7,169.0 L328.6,168.8 L329.6,168.7 L330.6,168.5 L331.6,168.4 L332.6,168.2 L333.6,168.1 L334.5,167.9 L335.5,167.7 L336.5,167.6 L337.5,167.4 L338.5,167.2 L339.4,167.1 L340.4,166.9 L341.4,166.7 L342.4,166.5 L343.4,166.3 L344.3,166.1 L345.3,165.9 L346.3,165.7 L347.3,165.5 L348.2,165.3 L349.2,165.1 L350.2,164.9 L351.2,164.6 L352.2,164.4 L353.1,164.2 L354.1,164.0 L355.1,163.7 L356.1,163.5 L357.0,163.3 L358.0,163.1 L359.0,162.8 L360.0,162.6 L360.9,162.4 L361.9,162.2 L362.9,161.9 L363.9,161.7 L364.8,161.5 L365.8,161.3 L366.8,161.1 L367.8,160.9 L368.8,160.7 L369.7,160.5 L370.7,160.3 L371.7,160.1 L372.7,159.9 L373.7,159.7 L374.7,159.5 L375.6,159.4 L376.6,159.2 L377.6,159.0 L378.6,158.8 L379.6,158.7 L380.6,158.5 L381.5,158.3 L382.5,158.2 L383.5,158.0 L384.5,157.9 L385.5,157.7 L386.5,157.6 L387.5,157.4 L388.4,157.3 L389.4,157.1 L390.4,157.0 L391.4,156.9 L392.4,156.7 L393.4,156.6 L394.4,156.5 L395.4,156.3 L396.4,156.2 L397.3,156.1 L398.3,156.0 L399.3,155.8 L400.3,155.7 L401.3,155.6 L402.3,155.5 L403.3,155.4 L404.3,155.3 L405.3,155.2 L406.3,155.1 L407.3,155.0 L408.3,154.9 L409.3,154.8 L410.2,154.7 L411.2,154.6 L412.2,154.5 L413.2,154.4 L414.2,154.3 L415.2,154.2 L416.2,154.1 L417.2,154.0 L418.2,153.9 L419.2,153.9 L420.2,153.8 L421.2,153.7 L422.2,153.6 L423.2,153.6 L424.2,153.5 L425.2,153.4 L426.2,153.3 L427.2,153.3 L428.2,153.2 L429.2,153.1 L430.2,153.1 L431.2,153.0 L432.2,152.9 L433.2,152.9 L434.2,152.8 L435.2,152.7 L436.2,152.7 L437.1,152.6 L438.1,152.6 L439.1,152.5 L440.1,152.5 L441.1,152.4 L442.1,152.4 L443.1,152.3 L444.1,152.2 L445.1,152.2 L446.1,152.1 L447.1,152.1 L448.1,152.0 L449.1,152.0 L450.1,152.0 L451.1,151.9 L452.1,151.9 L453.1,151.8 L454.1,151.8 L455.1,151.7 L456.1,151.7 L457.1,151.6 L458.1,151.6 L459.1,151.5 L460.1,151.5 L461.1,151.5 L462.1,151.4 L463.1,151.4 L464.1,151.3 L465.1,151.3 L466.1,151.3 L467.1,151.2 L468.1,151.2 L469.1,151.1 L470.1,151.1 L471.1,151.0 L472.1,151.0 L473.1,151.0 L474.1,150.9 L475.1,150.9 L476.1,150.8 L477.1,150.8 L478.1,150.8 L479.1,150.7 L480.1,150.7 L481.1,150.7 L482.1,150.6 L483.1,150.6 L484.1,150.5 L485.1,150.5 L486.1,150.5 L487.1,150.4 L488.1,150.4 L489.1,150.3 L490.1,150.3 L491.1,150.3 L492.1,150.2 L493.1,150.2 L494.1,150.2 L495.1,150.1 L496.1,150.1 L497.1,150.0 L498.1,150.0 L499.1,150.0 L500.1,149.9 L501.1,149.9 L502.1,149.9 L503.1,149.8 L504.1,149.8 L505.1,149.7 L506.1,149.7 L507.1,149.7 L508.1,149.6 L509.1,149.6 L510.1,149.6 L511.1,149.5 L512.1,149.5 L513.1,149.5 L514.1,149.4 L515.1,149.4 L516.1,149.4 L517.1,149.3 L518.1,149.3 L519.1,149.2 L520.1,149.2 L521.1,149.2 L522.1,149.1 L523.1,149.1 L524.1,149.1 L525.1,149.0 L526.1,149.0 L527.1,149.0 L528.1,148.9 L529.1,148.9 L530.1,148.9 L531.1,148.8 L532.1,148.8 L533.1,148.8 L534.1,148.7 L535.1,148.7 L536.1,148.7 L537.1,148.6 L538.1,148.6 L539.1,148.6 L540.1,148.5 L541.1,148.5 L542.1,148.5 L543.1,148.4 L544.1,148.4 L545.1,148.4 L546.1,148.4 L547.1,148.3 L548.1,148.3 L549.1,148.3 L550.1,148.2 L551.1,148.2 L552.1,148.2 L553.1,148.1 L554.1,148.1 L555.1,148.1 L556.1,148.0 L557.1,148.0 L558.1,148.0 L559.1,147.9 L560.1,147.9 L561.1,147.9 L562.1,147.9 L563.1,147.8 L564.1,147.8 L565.1,147.8 L566.1,147.7 L567.1,147.7 L568.1,147.7 L569.1,147.6 L570.1,147.6 L571.1,147.6 L572.1,147.5 L573.1,147.5 L574.1,147.5 L575.1,147.5 L576.1,147.4 L577.1,147.4 L578.1,147.4 L579.1,147.3 L580.1,147.3 L581.1,147.3 L582.1,147.3 L583.1,147.2 L584.1,147.2 L585.1,147.2 L586.1,147.1 L587.1,147.1 L588.1,147.1 L589.1,147.1 L590.1,147.0 L591.1,147.0 L592.1,147.0 L593.1,146.9 L594.1,146.9 L595.1,146.9 L596.1,146.9 L597.1,146.8 L598.1,146.8 L599.1,146.8 L600.1,146.7 L601.1,146.7 L602.1,146.7 L603.1,146.7 L604.1,146.6 L605.1,146.6 L606.1,146.6 L607.1,146.6 L608.1,146.5 L609.1,146.5 L610.1,146.5 L611.1,146.4 L612.1,146.4 L613.1,146.4 L614.1,146.4 L615.1,146.3 L616.1,146.3 L617.1,146.3 L618.1,146.3 L619.1,146.2 L620.1,146.2 L621.1,146.2 L622.1,146.2 L623.1,146.1 L624.1,146.1 L625.1,146.1 L626.1,146.0 L627.1,146.0 L628.1,146.0 L629.1,146.0 L630.1,145.9 L631.1,145.9 L632.1,145.9 L633.0,145.9 L634.0,145.8 L635.0,145.8 L636.0,145.8 L637.0,145.8 L638.0,145.7 L639.0,145.7 L640.0,145.7 L641.0,145.7 L642.0,145.6 L643.0,145.6 L644.0,145.6 L645.0,145.6 L646.0,145.5 L647.0,145.5 L648.0,145.5 L649.0,145.5 L650.0,145.4 L651.0,145.4 L652.0,145.4 L653.0,145.4 L654.0,145.3 L655.0,145.3 L656.0,145.3 L657.0,145.3 L658.0,145.2 L659.0,145.2 L660.0,145.2 L661.0,145.2 L662.0,145.1 L663.0,145.1 L664.0,145.1 L665.0,145.1 L666.0,145.0 L667.0,145.0 L668.0,145.0 L669.0,145.0 L670.0,144.9 L671.0,144.9 L671.8,144.9" fill="none" stroke="#ffec1f" stroke-width="5.8" stroke-linejoin="round" stroke-linecap="round"/>
<path d="M59.6,525.8 L60.7,525.9 L61.7,526.0 L62.8,525.9 L63.8,525.8 L64.8,525.7 L65.8,525.5 L66.7,525.2 L67.7,524.9 L68.6,524.5 L69.4,524.1 L70.3,523.6 L71.1,523.1 L71.9,522.6 L72.7,522.0 L73.4,521.3 L74.2,520.7 L74.9,520.0 L75.5,519.2 L76.2,518.5 L76.8,517.7 L77.4,516.9 L78.0,516.1 L78.5,515.3 L79.1,514.4 L79.6,513.5 L80.1,512.7 L80.6,511.8 L81.1,510.9 L81.6,510.0 L82.0,509.1 L82.5,508.2 L82.9,507.3 L83.3,506.4 L83.7,505.4 L84.1,504.5 L84.5,503.6 L84.9,502.7 L85.2,501.7 L85.6,500.8 L85.9,499.9 L86.3,498.9 L86.6,498.0 L86.9,497.0 L87.2,496.1 L87.6,495.1 L87.9,494.2 L88.2,493.2 L88.4,492.3 L88.7,491.3 L89.0,490.3 L89.3,489.4 L89.6,488.4 L89.8,487.5 L90.1,486.5 L90.4,485.5 L90.6,484.6 L90.9,483.6 L91.2,482.6 L91.4,481.7 L91.7,480.7 L91.9,479.7 L92.2,478.8 L92.5,477.8 L92.7,476.8 L93.0,475.9 L93.2,474.9 L93.4,473.9 L93.7,473.0 L93.9,472.0 L94.2,471.0 L94.4,470.1 L94.7,469.1 L94.9,468.1 L95.1,467.2 L95.4,466.2 L95.6,465.2 L95.8,464.2 L96.1,463.3 L96.3,462.3 L96.5,461.3 L96.8,460.4 L97.0,459.4 L97.2,458.4 L97.5,457.4 L97.7,456.5 L97.9,455.5 L98.2,454.5 L98.4,453.5 L98.6,452.6 L98.8,451.6 L99.1,450.6 L99.3,449.6 L99.5,448.7 L99.7,447.7 L100.0,446.7 L100.2,445.7 L100.4,444.8 L100.6,443.8 L100.8,442.8 L101.0,441.8 L101.3,440.8 L101.5,439.9 L101.7,438.9 L101.9,437.9 L102.1,436.9 L102.3,436.0 L102.5,435.0 L102.7,434.0 L102.9,433.0 L103.1,432.0 L103.3,431.1 L103.5,430.1 L103.7,429.1 L103.9,428.1 L104.1,427.1 L104.3,426.2 L104.5,425.2 L104.7,424.2 L104.9,423.2 L105.0,422.2 L105.2,421.3 L105.4,420.3 L105.6,419.3 L105.8,418.3 L106.0,417.3 L106.1,416.4 L106.3,415.4 L106.5,414.4 L106.7,413.4 L106.8,412.4 L107.0,411.4 L107.2,410.5 L107.4,409.5 L107.5,408.5 L107.7,407.5 L107.9,406.5 L108.0,405.6 L108.2,404.6 L108.4,403.6 L108.5,402.6 L108.7,401.6 L108.9,400.6 L109.0,399.7 L109.2,398.7 L109.3,397.7 L109.5,396.7 L109.7,395.7 L109.8,394.7 L110.0,393.7 L110.1,392.8 L110.3,391.8 L110.4,390.8 L110.6,389.8 L110.8,388.8 L110.9,387.8 L111.1,386.9 L111.2,385.9 L111.4,384.9 L111.5,383.9 L111.7,382.9 L111.9,381.9 L112.0,380.9 L112.2,380.0 L112.3,379.0 L112.5,378.0 L112.6,377.0 L112.8,376.0 L112.9,375.0 L113.1,374.0 L113.2,373.1 L113.4,372.1 L113.6,371.1 L113.7,370.1 L113.9,369.1 L114.0,368.1 L114.2,367.1 L114.3,366.2 L114.5,365.2 L114.6,364.2 L114.8,363.2 L115.0,362.2 L115.1,361.2 L115.3,360.2 L115.4,359.3 L115.6,358.3 L115.8,357.3 L115.9,356.3 L116.1,355.3 L116.2,354.3 L116.4,353.3 L116.6,352.3 L116.7,351.4 L116.9,350.4 L117.1,349.4 L117.2,348.4 L117.4,347.4 L117.6,346.4 L117.7,345.4 L117.9,344.4 L118.1,343.5 L118.2,342.5 L118.4,341.5 L118.6,340.5 L118.8,339.5 L118.9,338.5 L119.1,337.5 L119.3,336.6 L119.5,335.6 L119.6,334.6 L119.8,333.6 L120.0,332.6 L120.2,331.6 L120.4,330.6 L120.6,329.6 L120.7,328.7 L120.9,327.7 L121.1,326.7 L121.3,325.7 L121.5,324.7 L121.7,323.7 L121.9,322.7 L122.1,321.7 L122.3,320.8 L122.5,319.8 L122.7,318.8 L122.9,317.8 L123.1,316.8 L123.3,315.8 L123.5,314.8 L123.8,313.9 L124.0,312.9 L124.2,311.9 L124.4,310.9 L124.6,309.9 L124.8,308.9 L125.1,308.0 L125.3,307.0 L125.5,306.0 L125.8,305.0 L126.0,304.0 L126.2,303.1 L126.5,302.1 L126.7,301.1 L127.0,300.1 L127.2,299.2 L127.5,298.2 L127.7,297.2 L128.0,296.2 L128.2,295.3 L128.5,294.3 L128.8,293.3 L129.0,292.4 L129.3,291.4 L129.6,290.4 L129.8,289.5 L130.1,288.5 L130.4,287.6 L130.7,286.6 L131.0,285.6 L131.3,284.7 L131.6,283.7 L131.9,282.8 L132.2,281.8 L132.5,280.9 L132.8,279.9 L133.1,279.0 L133.4,278.0 L133.7,277.1 L134.1,276.1 L134.4,275.2 L134.7,274.2 L135.1,273.3 L135.4,272.4 L135.7,271.4 L136.1,270.5 L136.4,269.6 L136.8,268.6 L137.2,267.7 L137.5,266.8 L137.9,265.9 L138.3,264.9 L138.6,264.0 L139.0,263.1 L139.4,262.2 L139.8,261.3 L140.2,260.4 L140.6,259.5 L141.0,258.5 L141.4,257.6 L141.8,256.7 L142.2,255.8 L142.6,254.9 L143.1,254.1 L143.5,253.2 L143.9,252.3 L144.4,251.4 L144.8,250.5 L145.3,249.6 L145.7,248.7 L146.2,247.9 L146.6,247.0 L147.1,246.1 L147.6,245.2 L148.0,244.4 L148.5,243.5 L149.0,242.7 L149.5,241.8 L150.0,240.9 L150.5,240.1 L151.0,239.2 L151.6,238.4 L152.1,237.5 L152.6,236.7 L153.1,235.9 L153.7,235.0 L154.2,234.2 L154.8,233.4 L155.3,232.6 L155.9,231.7 L156.5,230.9 L157.0,230.1 L157.6,229.3 L158.2,228.5 L158.8,227.7 L159.4,226.9 L160.0,226.1 L160.6,225.3 L161.2,224.5 L161.8,223.7 L162.5,222.9 L163.1,222.1 L163.7,221.4 L164.4,220.6 L165.0,219.8 L165.7,219.1 L166.4,218.3 L167.0,217.6 L167.7,216.8 L168.4,216.1 L169.1,215.3 L169.7,214.6 L170.4,213.9 L171.1,213.1 L171.9,212.4 L172.6,211.7 L173.3,211.0 L174.0,210.3 L174.7,209.6 L175.5,208.9 L176.2,208.2 L177.0,207.6 L177.7,206.9 L178.5,206.2 L179.2,205.6 L180.0,204.9 L180.8,204.3 L181.5,203.6 L182.3,203.0 L183.1,202.4 L183.9,201.8 L184.7,201.2 L185.5,200.6 L186.3,200.0 L187.1,199.4 L187.9,198.8 L188.7,198.2 L189.6,197.7 L190.4,197.1 L191.2,196.6 L192.1,196.0 L192.9,195.5 L193.7,195.0 L194.6,194.5 L195.5,194.0 L196.3,193.5 L197.2,193.0 L198.1,192.5 L198.9,192.0 L199.8,191.6 L200.7,191.1 L201.6,190.7 L202.5,190.2 L203.4,189.8 L204.3,189.4 L205.2,189.0 L206.1,188.6 L207.0,188.2 L207.9,187.8 L208.8,187.4 L209.7,187.0 L210.7,186.7 L211.6,186.3 L212.5,186.0 L213.5,185.6 L214.4,185.3 L215.3,185.0 L216.3,184.7 L217.2,184.3 L218.2,184.0 L219.1,183.7 L220.1,183.5 L221.1,183.2 L222.0,182.9 L223.0,182.6 L223.9,182.3 L224.9,182.1 L225.9,181.8 L226.8,181.6 L227.8,181.3 L228.8,181.1 L229.8,180.9 L230.7,180.6 L231.7,180.4 L232.7,180.2 L233.7,180.0 L234.7,179.8 L235.6,179.5 L236.6,179.3 L237.6,179.1 L238.6,179.0 L239.6,178.8 L240.6,178.6 L241.6,178.4 L242.6,178.2 L243.6,178.0 L244.5,177.9 L245.5,177.7 L246.5,177.5 L247.5,177.4 L248.5,177.2 L249.5,177.1 L250.5,176.9 L251.5,176.8 L252.5,176.6 L253.5,176.5 L254.5,176.3 L255.5,176.2 L256.5,176.0 L257.5,175.9 L258.4,175.8 L259.4,175.7 L260.4,175.5 L261.4,175.4 L262.4,175.3 L263.4,175.2 L264.4,175.1 L265.4,174.9 L266.4,174.8 L267.4,174.7 L268.4,174.6 L269.4,174.5 L270.4,174.4 L271.4,174.3 L272.4,174.2 L273.4,174.1 L274.4,174.0 L275.4,173.9 L276.4,173.8 L277.3,173.8 L278.3,173.7 L279.3,173.6 L280.3,173.5 L281.3,173.4 L282.3,173.4 L283.3,173.3 L284.3,173.2 L285.3,173.1 L286.3,173.1 L287.3,173.0 L288.3,172.9 L289.3,172.9 L290.3,172.8 L291.3,172.8 L292.3,172.7 L293.3,172.7 L294.3,172.6 L295.3,172.6 L296.3,172.5 L297.3,172.5 L298.3,172.4 L299.3,172.4 L300.3,172.3 L301.3,172.3 L302.3,172.2 L303.3,172.2 L304.3,172.2 L305.3,172.1 L306.3,172.1 L307.3,172.0 L308.3,172.0 L309.3,172.0 L310.3,172.0 L311.3,171.9 L312.3,171.9 L313.3,171.9 L314.3,171.8 L315.3,171.8 L316.2,171.8 L317.2,171.8 L318.2,171.8 L319.2,171.7 L320.2,171.7 L321.2,171.7 L322.2,171.7 L323.2,171.7 L324.2,171.7 L325.2,171.6 L326.2,171.6 L327.2,171.6 L328.2,171.6 L329.2,171.6 L330.2,171.6 L331.2,171.6 L332.2,171.6 L333.2,171.6 L334.2,171.5 L335.2,171.5 L336.2,171.5 L337.2,171.5 L338.2,171.5 L339.2,171.5 L340.2,171.5 L341.2,171.5 L342.2,171.5 L343.2,171.5 L344.2,171.5 L345.2,171.5 L346.2,171.5 L347.2,171.5 L348.2,171.5 L349.2,171.5 L350.2,171.5 L351.2,171.5 L352.2,171.5 L353.2,171.5 L354.2,171.5 L355.2,171.5 L356.2,171.5 L357.2,171.5 L358.2,171.5 L359.2,171.5 L360.2,171.5 L361.2,171.5 L362.2,171.5 L363.2,171.5 L364.2,171.5 L365.2,171.5 L366.2,171.5 L367.2,171.5 L368.2,171.5 L369.2,171.5 L370.2,171.5 L371.2,171.5 L372.2,171.5 L373.2,171.5 L374.2,171.5 L375.2,171.5 L376.2,171.5 L377.2,171.5 L378.2,171.5 L379.2,171.5 L380.2,171.5 L381.2,171.5 L382.2,171.5 L383.2,171.5 L384.2,171.5 L385.2,171.5 L386.2,171.5 L387.2,171.5 L388.2,171.5 L389.2,171.5 L390.2,171.5 L391.2,171.5 L392.2,171.5 L393.2,171.5 L394.2,171.5 L395.2,171.5 L396.2,171.5 L397.2,171.5 L398.2,171.5 L399.2,171.5 L400.2,171.5 L401.2,171.5 L402.2,171.5 L403.2,171.5 L404.2,171.5 L405.2,171.5 L406.2,171.5 L407.2,171.5 L408.2,171.5 L409.2,171.5 L410.2,171.5 L411.2,171.5 L412.2,171.5 L413.2,171.5 L414.2,171.5 L415.2,171.5 L416.2,171.5 L417.2,171.5 L418.2,171.5 L419.2,171.5 L420.2,171.5 L421.2,171.5 L422.2,171.5 L423.2,171.5 L424.2,171.5 L425.2,171.5 L426.2,171.5 L427.2,171.5 L428.2,171.5 L429.2,171.5 L430.2,171.5 L431.2,171.5 L432.2,171.5 L433.2,171.5 L434.2,171.5 L435.2,171.5 L436.2,171.5 L437.2,171.5 L438.2,171.5 L439.2,171.5 L440.2,171.5 L441.2,171.5 L442.2,171.5 L443.2,171.5 L444.2,171.5 L445.2,171.5 L446.2,171.5 L447.2,171.5 L448.2,171.5 L449.2,171.5 L450.2,171.5 L451.2,171.5 L452.2,171.5 L453.2,171.5 L454.2,171.5 L455.2,171.5 L456.2,171.5 L457.2,171.5 L458.2,171.5 L459.2,171.5 L460.2,171.5 L461.2,171.5 L462.2,171.5 L463.2,171.5 L464.2,171.5 L465.2,171.5 L466.2,171.5 L467.2,171.5 L468.2,171.5 L469.2,171.5 L470.2,171.5 L471.2,171.5 L472.2,171.5 L473.2,171.5 L474.2,171.5 L475.2,171.5 L476.2,171.5 L477.2,171.5 L478.2,171.5 L479.2,171.5 L480.2,171.5 L481.2,171.5 L482.2,171.5 L483.2,171.5 L484.2,171.5 L485.2,171.5 L486.2,171.5 L487.2,171.5 L488.2,171.5 L489.2,171.5 L490.2,171.5 L491.2,171.5 L492.2,171.5 L493.2,171.5 L494.2,171.5 L495.2,171.5 L496.2,171.5 L497.2,171.5 L498.2,171.5 L499.2,171.5 L500.2,171.5 L501.2,171.5 L502.2,171.5 L503.2,171.5 L504.2,171.5 L505.2,171.5 L506.2,171.5 L507.2,171.5 L508.2,171.5 L509.2,171.5 L510.2,171.5 L511.2,171.5 L512.2,171.5 L513.2,171.5 L514.2,171.5 L515.2,171.5 L516.2,171.5 L517.2,171.5 L518.2,171.5 L519.2,171.5 L520.2,171.5 L521.2,171.5 L522.2,171.5 L523.2,171.5 L524.2,171.5 L525.2,171.5 L526.2,171.5 L527.2,171.5 L528.2,171.5 L529.2,171.5 L530.2,171.5 L531.2,171.5 L532.2,171.5 L533.2,171.5 L534.2,171.5 L535.2,171.5 L536.2,171.5 L537.2,171.5 L538.2,171.5 L539.2,171.5 L540.2,171.5 L541.2,171.5 L542.2,171.5 L543.2,171.5 L544.2,171.5 L545.2,171.5 L546.2,171.5 L547.2,171.5 L548.2,171.5 L549.2,171.5 L550.2,171.5 L551.2,171.5 L552.2,171.5 L553.2,171.5 L554.2,171.5 L555.2,171.5 L556.2,171.5 L557.2,171.5 L558.2,171.5 L559.2,171.5 L560.2,171.5 L561.2,171.5 L562.2,171.5 L563.2,171.5 L564.2,171.5 L565.2,171.5 L566.2,171.5 L567.2,171.5 L568.2,171.5 L569.2,171.5 L570.2,171.5 L571.2,171.5 L572.2,171.5 L573.2,171.5 L574.2,171.5 L575.2,171.5 L576.2,171.5 L577.2,171.5 L578.2,171.5 L579.2,171.5 L580.2,171.5 L581.2,171.5 L582.2,171.5 L583.2,171.5 L584.2,171.5 L585.2,171.5 L586.2,171.5 L587.2,171.5 L588.2,171.5 L589.2,171.5 L590.2,171.5 L591.2,171.5 L592.2,171.5 L593.2,171.5 L594.2,171.5 L595.2,171.5 L596.2,171.5 L597.2,171.5 L598.2,171.5 L599.2,171.5 L600.2,171.5 L601.2,171.5 L602.2,171.5 L603.2,171.5 L604.2,171.5 L605.2,171.5 L606.2,171.5 L607.2,171.5 L608.2,171.5 L609.2,171.5 L610.2,171.5 L611.2,171.5 L612.2,171.5 L613.2,171.5 L614.2,171.5 L615.2,171.5 L616.2,171.5 L617.2,171.5 L618.2,171.5 L619.2,171.5 L620.2,171.5 L621.2,171.5 L622.2,171.5 L623.2,171.5 L624.2,171.5 L625.2,171.5 L626.2,171.5 L627.2,171.5 L628.2,171.5 L629.2,171.5 L630.2,171.5 L631.2,171.5 L632.2,171.5 L633.2,171.5 L634.2,171.5 L635.2,171.5 L636.2,171.5 L637.2,171.5 L638.2,171.5 L639.2,171.5 L640.2,171.5 L641.2,171.5 L642.2,171.5 L643.2,171.5 L644.2,171.5 L645.2,171.5 L646.2,171.5 L647.2,171.5 L648.2,171.5 L649.2,171.5 L650.2,171.5 L651.2,171.5 L652.2,171.5 L653.2,171.5 L654.2,171.5 L655.2,171.5 L656.2,171.5 L657.2,171.5 L658.2,171.5 L659.2,171.5 L660.2,171.5 L661.2,171.5 L662.2,171.5 L663.2,171.5 L664.2,171.5 L665.2,171.5 L666.2,171.5 L667.2,171.5 L668.2,171.5 L669.2,171.5 L670.2,171.5 L671.2,171.5 L671.8,171.5" fill="none" stroke="#e8262a" stroke-width="5.1" stroke-linejoin="round" stroke-linecap="round"/>
<rect x="365" y="266.5" width="297" height="149.5" fill="#fff" stroke="#1e272c" stroke-width="2.2"/>
<line x1="369" y1="286" x2="395.7" y2="286" stroke="#000" stroke-width="7.8"/>
<line x1="369" y1="318.5" x2="413" y2="318.5" stroke="#1a3fa3" stroke-width="5.2"/>
<line x1="369" y1="346" x2="413" y2="346" stroke="#6dbe45" stroke-width="5.2"/>
<line x1="369" y1="373.1" x2="413" y2="373.1" stroke="#ffec1f" stroke-width="5.2"/>
<line x1="369" y1="400.7" x2="413" y2="400.7" stroke="#e8262a" stroke-width="5.2"/>
<g><text transform="translate(287.45,20.30) scale(1.1247,1)" font-family="Liberation Serif, serif" font-size="23" fill="#231f20">Pitch</text> <text transform="translate(352.95,20.30) scale(1.0857,1)" font-family="Liberation Serif, serif" font-size="23" fill="#231f20">transient</text></g>
<text transform="translate(35.57,462.77) scale(1.1100,1)" font-family="Liberation Serif, serif" font-size="24" fill="#231f20">1</text>
<text transform="translate(36.09,391.84) scale(1.1100,1)" font-family="Liberation Serif, serif" font-size="24" fill="#231f20">2</text>
<text transform="translate(35.82,320.91) scale(1.1100,1)" font-family="Liberation Serif, serif" font-size="24" fill="#231f20">3</text>
<text transform="translate(35.89,249.99) scale(1.1100,1)" font-family="Liberation Serif, serif" font-size="24" fill="#231f20">4</text>
<text transform="translate(35.69,179.06) scale(1.1100,1)" font-family="Liberation Serif, serif" font-size="24" fill="#231f20">5</text>
<text transform="translate(35.77,108.13) scale(1.1100,1)" font-family="Liberation Serif, serif" font-size="24" fill="#231f20">6</text>
<text transform="translate(35.45,37.20) scale(1.1100,1)" font-family="Liberation Serif, serif" font-size="24" fill="#231f20">7</text>
<text transform="translate(35.99,551.30) scale(1.1105,1)" font-family="Liberation Serif, serif" font-size="24" fill="#231f20">0</text>
<text transform="translate(208.03,551.30) scale(1.0546,1)" font-family="Liberation Serif, serif" font-size="24" fill="#231f20">5</text>
<text transform="translate(356.90,551.30) scale(0.9487,1)" font-family="Liberation Serif, serif" font-size="24" fill="#231f20">10</text>
<text transform="translate(509.56,551.30) scale(0.8734,1)" font-family="Liberation Serif, serif" font-size="24" fill="#231f20">15</text>
<text transform="translate(660.65,551.30) scale(1.0893,1)" font-family="Liberation Serif, serif" font-size="24" fill="#231f20">20</text>
<g><g><text transform="translate(353.77,576.20) scale(1.2153,1)" font-family="Liberation Serif, serif" font-size="23" font-style="italic" fill="#231f20">t</text><text transform="translate(363.88,576.20) scale(0.9338,1)" font-family="Liberation Serif, serif" font-size="23" fill="#231f20">,</text></g> <text transform="translate(372.35,576.20) scale(1.1148,1)" font-family="Liberation Serif, serif" font-size="23" fill="#231f20">s</text></g>
<text transform="translate(22.10,306.35) rotate(-90) scale(1.0435,1)" font-family="Liberation Serif, serif" font-size="23.5" fill="#231f20">θ, deg</text>
<g><text transform="translate(419.63,294.55) scale(1.2054,1)" font-family="Liberation Serif, serif" font-size="24.25" fill="#231f20">θ</text><text transform="translate(433.26,298.60) scale(1.0550,1)" font-family="Liberation Serif, serif" font-size="16" fill="#231f20">ref</text></g>
<g><text transform="translate(428.68,324.80) scale(1.0809,1)" font-family="Liberation Serif, serif" font-size="23" fill="#231f20">Without</text> <text transform="translate(516.30,324.80) scale(1.1225,1)" font-family="Liberation Serif, serif" font-size="23" fill="#231f20">adaption</text></g>
<g><text transform="translate(427.96,354.20) scale(1.0446,1)" font-family="Liberation Serif, serif" font-size="23" fill="#231f20">Adaptive</text> <text transform="translate(523.73,354.20) scale(1.1539,1)" font-family="Liberation Serif, serif" font-size="23" fill="#231f20">DI</text></g>
<g><text transform="translate(427.96,381.30) scale(1.0446,1)" font-family="Liberation Serif, serif" font-size="23" fill="#231f20">Adaptive</text> <text transform="translate(522.77,381.30) scale(1.1220,1)" font-family="Liberation Serif, serif" font-size="23" fill="#231f20">SNAC</text></g>
<g><text transform="translate(427.96,404.40) scale(1.0446,1)" font-family="Liberation Serif, serif" font-size="23" fill="#231f20">Adaptive</text> <text transform="translate(525.03,404.40) scale(1.1493,1)" font-family="Liberation Serif, serif" font-size="23" fill="#231f20">DI+SNAC</text></g>
</svg></body></html>
